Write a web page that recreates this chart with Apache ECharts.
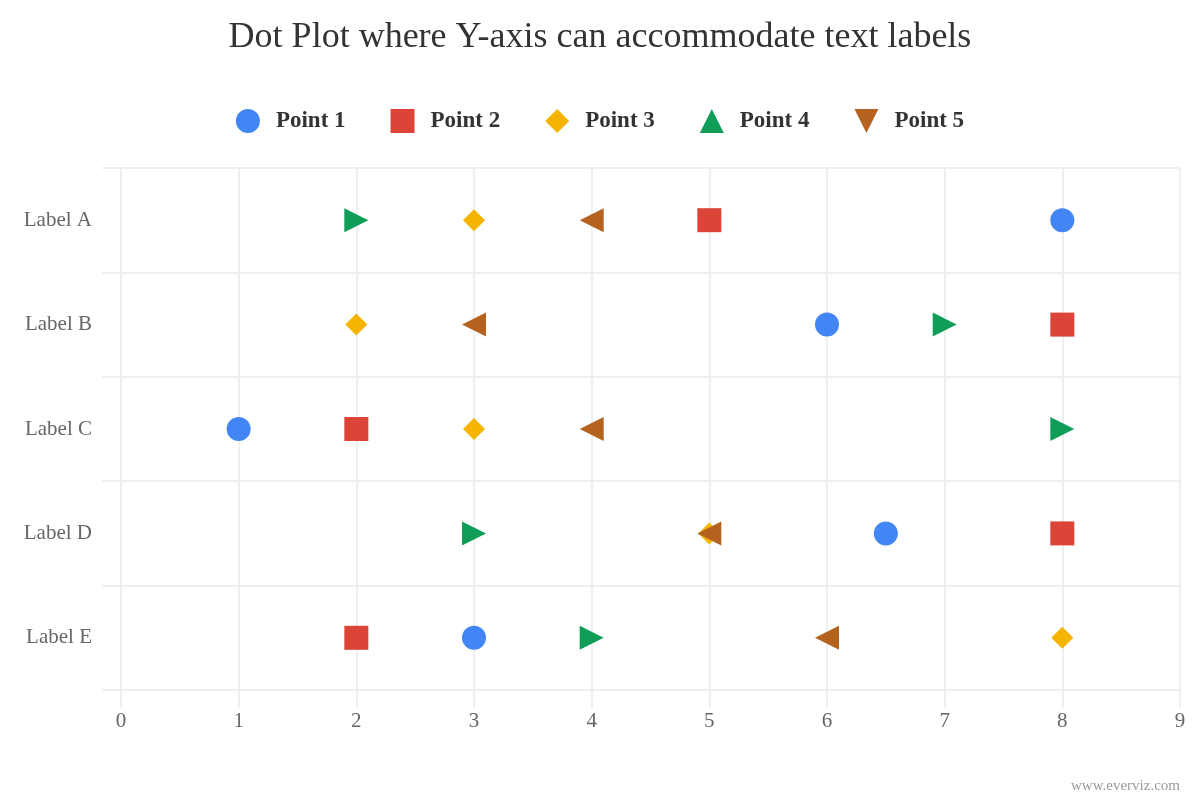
<!DOCTYPE html>
<html>
<head>
<meta charset="utf-8">
<script src="https://cdn.jsdelivr.net/npm/echarts@6/dist/echarts.min.js"></script>
<style>
html,body{margin:0;padding:0;background:#fff}
#box{width:1200px;height:800px}
</style>
</head>
<body>
<div id="box"></div>
<script>
var categories = ['Label A', 'Label B', 'Label C', 'Label D', 'Label E'];
var xTicks = [0, 9, 1]; // min, max, interval

var point1 = [8, 6, 1, 6.5, 3];
var point2 = [5, 8, 2, 8, 2];
var point3 = [3, 2, 3, 5, 8];
var point4 = [2, 7, 8, 3, 4];
var point5 = [4, 3, 4, 5, 6];

var seriesNames = ['Point 1', 'Point 2', 'Point 3', 'Point 4', 'Point 5'];
var seriesValues = [point1, point2, point3, point4, point5];
var colors = ['#4285F4', '#DB4437', '#F4B400', '#0F9D58', '#B5621E'];
var symbols = ['circle', 'rect', 'diamond', 'triangle', 'triangle'];
var rotates = [0, 0, 0, -90, 90];
var sizes = [24, 24, 22, 24, 24];
var legendIcons = ['circle', 'rect', 'diamond', 'triangle', 'path://M0,0 L10,0 L5,10 Z'];

var fontFam = '"Liberation Serif", "DejaVu Serif", serif';
var lineColor = '#efefef';

var series = [];
for (var s = 0; s < seriesNames.length; s++) {
	var pts = [];
	for (var i = 0; i < categories.length; i++) {
		pts.push([seriesValues[s][i], categories[i]]);
	}
	series.push({
		name: seriesNames[s],
		type: 'scatter',
		data: pts,
		symbol: symbols[s],
		symbolSize: sizes[s],
		symbolRotate: rotates[s],
		itemStyle: { color: colors[s], opacity: 1 },
		emphasis: { disabled: true }
	});
}

var legendData = [];
for (var k = 0; k < seriesNames.length; k++) {
	legendData.push({ name: seriesNames[k], icon: legendIcons[k] });
}

var dom = document.getElementById('box');
var myChart = echarts.init(dom);
var option = {
	color: colors,
	animation: false,
	textStyle: { fontFamily: fontFam },
	title: {
		text: 'Dot Plot where Y-axis can accommodate text labels',
		left: 'center',
		top: 15,
		textStyle: { fontFamily: fontFam, fontSize: 36, fontWeight: 'normal', color: '#333' }
	},
	legend: {
		top: 104,
		left: 'center',
		data: legendData,
		itemWidth: 24,
		itemHeight: 24,
		itemGap: 45,
		symbolRotate: 0,
		textStyle: { fontFamily: fontFam, fontSize: 23, fontWeight: 'bold', color: '#333', padding: [0, 0, 0, 11] }
	},
	grid: { left: 121, right: 20, top: 168, bottom: 110, containLabel: false },
	xAxis: {
		type: 'value',
		min: xTicks[0],
		max: xTicks[1],
		interval: xTicks[2],
		axisLine: { show: true, lineStyle: { color: lineColor, width: 2 } },
		axisTick: { show: true, length: 18, lineStyle: { color: lineColor, width: 2 } },
		splitLine: { show: true, lineStyle: { color: lineColor, width: 2 } },
		axisLabel: { fontFamily: fontFam, fontSize: 21, color: '#666', margin: 21 }
	},
	yAxis: {
		type: 'category',
		data: categories,
		inverse: true,
		boundaryGap: true,
		axisLine: { show: true, lineStyle: { color: lineColor, width: 2 } },
		axisTick: { show: true, length: 19, lineStyle: { color: lineColor, width: 2 } },
		splitLine: { show: true, lineStyle: { color: lineColor, width: 2 } },
		axisLabel: { fontFamily: fontFam, fontSize: 21, color: '#666', margin: 29 }
	},
	graphic: [{
		type: 'text',
		right: 20,
		bottom: 6,
		style: { text: 'www.everviz.com', fontFamily: fontFam, fontSize: 15, fill: '#999' }
	}],
	series: series
};

if (option && typeof option === 'object') {
	myChart.setOption(option, true);
}
</script>
</body>
</html>
